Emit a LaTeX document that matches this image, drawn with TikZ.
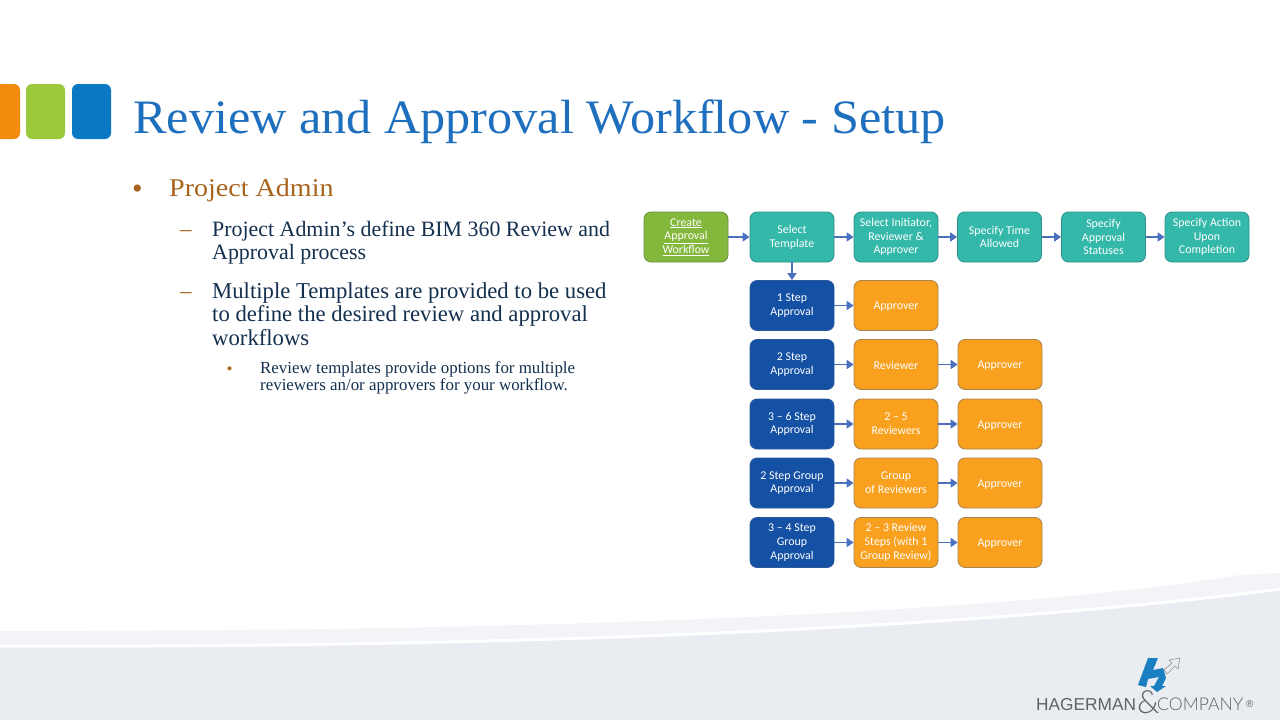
\documentclass[tikz,border=0pt]{standalone}
\usepackage{fontspec}
\setmainfont{Liberation Serif}
\newfontfamily\boxfont{Carlito}
\newfontfamily\logofont{Liberation Sans}
\newfontfamily\logothin{Lato Light}
\newfontfamily\titlefont[FakeStretch=1.047]{Liberation Serif}
\newfontfamily\headfont[FakeStretch=1.1]{Liberation Serif}
\usetikzlibrary{arrows.meta}
\definecolor{titleblue}{HTML}{1F6FBF}
\definecolor{brownish}{HTML}{A8641C}
\definecolor{navytext}{HTML}{14304F}
\definecolor{greenbox}{HTML}{84B83C}
\definecolor{greenedge}{HTML}{6C8F3F}
\definecolor{tealbox}{HTML}{33B8AA}
\definecolor{tealedge}{HTML}{2C8F8C}
\definecolor{bluebox}{HTML}{1450A4}
\definecolor{blueedge}{HTML}{2A5A9C}
\definecolor{orangebox}{HTML}{F9A11E}
\definecolor{orangeedge}{HTML}{A88250}
\definecolor{arrowblue}{HTML}{4A70BE}
\definecolor{bandgray}{HTML}{E9EDF2}
\definecolor{bandlight}{HTML}{F2F4F7}
\definecolor{logogray}{HTML}{5F6368}
\definecolor{tileorange}{HTML}{F28C0F}
\definecolor{tilegreen}{HTML}{9CC83C}
\definecolor{tileblue}{HTML}{0A78C2}
\definecolor{logoblue}{HTML}{1A7FC1}
\tikzset{
  flowbox/.style={rounded corners=7pt,minimum width=84pt,minimum height=50pt,inner sep=0pt,align=center,text=white,font=\boxfont\fontsize{11.9}{13.8}\selectfont,line width=0.8pt},
  multi/.style={execute at begin node={\rule{0pt}{12.4pt}}},
  greenb/.style={flowbox,multi,fill=greenbox,draw=greenedge},
  tealb/.style={flowbox,multi,fill=tealbox,draw=tealedge},
  blueb/.style={flowbox,multi,fill=bluebox,draw=blueedge},
  orangeb/.style={flowbox,multi,fill=orangebox,draw=orangeedge},
  orangeone/.style={flowbox,fill=orangebox,draw=orangeedge,execute at begin node={\rule{0pt}{10.5pt}}},
  link/.style={draw=arrowblue,line width=1.6pt,-{Triangle[length=7pt,width=9pt]}},
  tile/.style={rounded corners=6pt,minimum width=39pt,minimum height=55pt,inner sep=0pt},
  lone/.style={anchor=base west,inner sep=0pt,align=left},
  ltop/.style={anchor=north west,inner sep=0pt,align=left},
  l2/.style={ltop,text=navytext,font=\fontsize{21.9}{23.5}\selectfont},
  l2b/.style={ltop,text=navytext,font=\fontsize{22.7}{23.5}\selectfont},
  l3/.style={ltop,text=navytext,font=\fontsize{16.9}{17}\selectfont}
}
\begin{document}
\begin{tikzpicture}[x=1pt,y=-1pt]
\useasboundingbox (0,0) rectangle (1280,720);
\fill[white] (0,0) rectangle (1280,720);
% bottom band
\fill[bandlight] (0,631) .. controls (500,632) and (1000,615) .. (1240,575) -- (1280,573) -- (1280,720) -- (0,720) -- cycle;
\fill[bandgray] (0,646) .. controls (450,648) and (950,632) .. (1280,589) -- (1280,720) -- (0,720) -- cycle;
\draw[white,line width=3pt] (0,646) .. controls (450,648) and (950,632) .. (1280,589);
% tiles
\node[tile,fill=tileorange] (t1) at (0.5,111.5) {};
\node[tile,fill=tilegreen] (t2) at (45.5,111.5) {};
\node[tile,fill=tileblue] (t3) at (91.5,111.5) {};
% title
\node[lone,text=titleblue,font=\titlefont\fontsize{48}{50}\selectfont] (title) at (133,133) {Review and Approval Workflow - Setup};
% text
\node[lone,text=brownish,font=\fontsize{30}{30}\selectfont] (b1) at (132,198) {•};
\node[lone,text=brownish,font=\headfont\fontsize{25.5}{28}\selectfont] (h1) at (169,196) {Project Admin};
\node[lone,text=brownish,font=\fontsize{23}{23}\selectfont] (d1) at (180,236) {–};
\node[l2] (p1) at (212,220.5) {Project Admin’s define BIM 360 Review and\\Approval process};
\node[lone,text=brownish,font=\fontsize{23}{23}\selectfont] (d2) at (180,298) {–};
\node[l2b] (p2) at (212,282.5) {Multiple Templates are provided to be used\\to define the desired review and approval\\workflows};
\node[lone,text=brownish,font=\fontsize{17}{17}\selectfont] (b2) at (226.5,374) {•};
\node[l3] (p3) at (260,361.5) {Review templates provide options for multiple\\reviewers an/or approvers for your workflow.};
% flow row
\node[greenb] (c) at (686,237) {\underline{Create}\\\underline{Approval}\\\underline{Workflow}};
\node[tealb] (s) at (792,237) {Select\\Template};
\node[tealb] (i) at (896,237) {Select Initiator,\\Reviewer \&\\Approver};
\node[tealb] (y) at (999.5,237) {Specify Time\\Allowed};
\node[tealb] (u) at (1103.5,237) {Specify\\Approval\\Statuses};
\node[tealb] (e) at (1207,237) {Specify Action\\Upon\\Completion};
\draw[link] (c) -- (s);
\draw[link] (s) -- (i);
\draw[link] (i) -- (y);
\draw[link] (y) -- (u);
\draw[link] (u) -- (e);
% rows
\node[blueb] (a1) at (792,305.5) {1 Step\\Approval};
\node[orangeone] (r1) at (896,305.5) {Approver};
\node[blueb] (a2) at (792,364.5) {2 Step\\Approval};
\node[orangeone] (r2) at (896,364.5) {Reviewer};
\node[orangeone] (v2) at (1000,364.5) {Approver};
\node[blueb] (a3) at (792,424) {3 – 6 Step\\Approval};
\node[orangeb] (r3) at (896,424) {2 – 5\\Reviewers};
\node[orangeone] (v3) at (1000,424) {Approver};
\node[blueb] (a4) at (792,483) {2 Step Group\\Approval};
\node[orangeb] (r4) at (896,483) {Group\\of Reviewers};
\node[orangeone] (v4) at (1000,483) {Approver};
\node[blueb] (a5) at (792,542.5) {3 – 4 Step\\Group\\Approval};
\node[orangeb] (r5) at (896,542.5) {2 – 3 Review\\Steps (with 1\\Group Review)};
\node[orangeone] (v5) at (1000,542.5) {Approver};
\draw[link] (s) -- (a1);
\draw[link] (a1) -- (r1);
\draw[link] (a2) -- (r2);
\draw[link] (r2) -- (v2);
\draw[link] (a3) -- (r3);
\draw[link] (r3) -- (v3);
\draw[link] (a4) -- (r4);
\draw[link] (r4) -- (v4);
\draw[link] (a5) -- (r5);
\draw[link] (r5) -- (v5);
% logo
\fill[logoblue] (1148,658) -- (1158,658) -- (1153,670) -- (1163,668) -- (1166,678) -- (1162,686) -- (1166,686) -- (1157,692) -- (1150,686) -- (1154,686) -- (1159,677) -- (1148,679) -- (1146,687) -- (1138,685) -- cycle;
\draw[logogray!70,line width=0.6pt] (1164,670) -- (1172,663) -- (1169,660) -- (1180,658) -- (1178,669) -- (1175,666) -- (1167,674) -- cycle;
\node[lone,text=logogray,font=\logofont\fontsize{17.3}{17}\selectfont] (hag) at (1036,710) {HAGERMAN};
\node[lone,text=logogray,font=\logothin\fontsize{32}{32}\selectfont] (amp) at (1137,713) {\&};
\node[lone,text=logogray,font=\logothin\fontsize{17.6}{17}\selectfont] (com) at (1157,710) {COMPANY};
\node[lone,text=logogray,font=\logofont\fontsize{10}{10}\selectfont] (reg) at (1246,707) {®};
\end{tikzpicture}
\end{document}
